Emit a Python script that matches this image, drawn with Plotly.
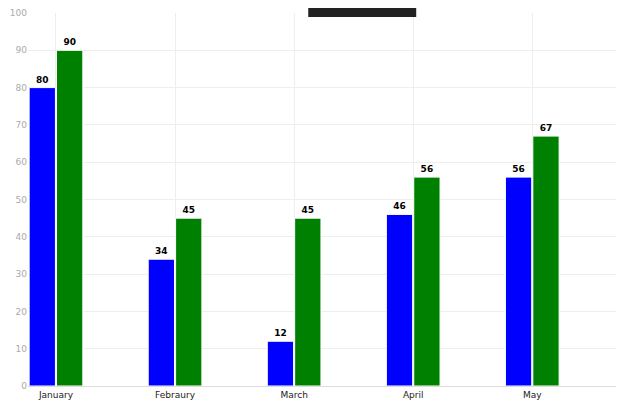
import plotly.graph_objects as go

months = ["January", "Febraury", "March", "April", "May"]
series_a = [80, 34, 12, 46, 56]
series_b = [90, 45, 45, 56, 67]

fig = go.Figure()
for vals, col in [(series_a, "#0000ff"), (series_b, "#008000")]:
    fig.add_trace(go.Bar(x=months, y=vals, marker=dict(color=col, line=dict(color="white", width=1)),
                         text=vals, textposition="outside", cliponaxis=False,
                         textfont=dict(family="DejaVu Sans", size=9, color="black", weight="bold")))
fig.update_layout(
    width=624, height=407, margin=dict(l=20, r=14, t=5, b=29),
    plot_bgcolor="white", paper_bgcolor="white", showlegend=False,
    bargap=0.54, bargroupgap=0.04,
    font=dict(family="DejaVu Sans", size=10, color="#333"),
    xaxis=dict(range=[-0.235, 4.72], showgrid=True, gridcolor="#eeeeee", linecolor="#dddddd",
               ticks="", automargin=False, tickfont=dict(size=9, color="#222")),
    yaxis=dict(range=[0, 100], dtick=10, showgrid=True, gridcolor="#eeeeee", zeroline=False,
               automargin=False, tickfont=dict(size=9, color="#aaaaaa")),
    shapes=[dict(type="rect", xref="paper", yref="paper", x0=0.475, x1=0.658, y0=0.989, y1=1.014,
                 fillcolor="#222222", line=dict(width=0))],
)
fig.write_html("out.html")
